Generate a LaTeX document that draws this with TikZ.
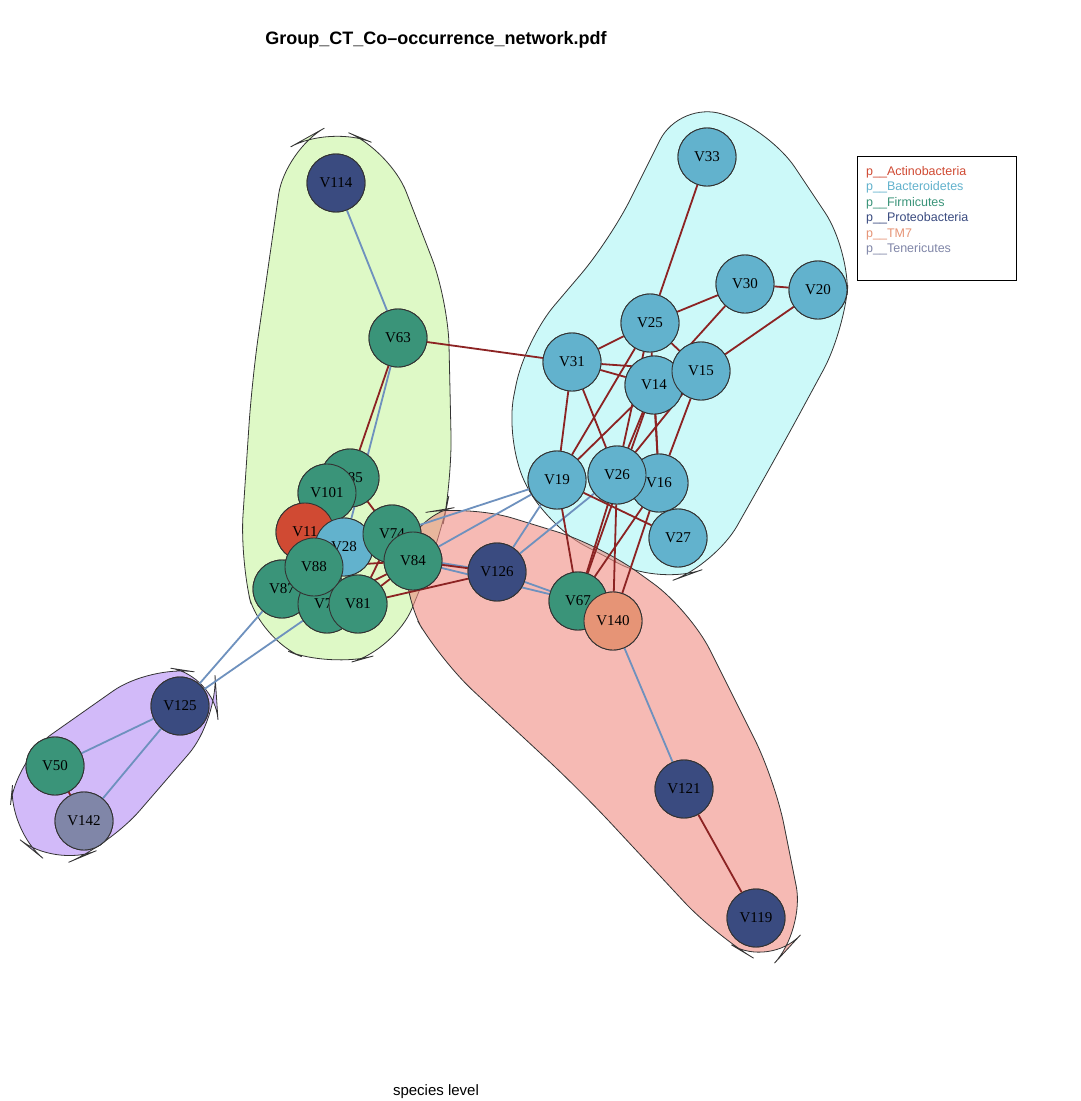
\documentclass[tikz,border=0pt]{standalone}
\usepackage{fontspec}
\setsansfont{Liberation Sans}
\setmainfont{Liberation Serif}
\begin{document}
\begin{tikzpicture}[x=1pt,y=-1pt,
 vtx/.style={circle,draw=black!80,line width=0.9pt,minimum size=58pt,inner sep=0pt,font=\fontsize{15}{15}\selectfont},
 act/.style={vtx,fill={rgb,255:red,208;green,74;blue,51}},
 bac/.style={vtx,fill={rgb,255:red,98;green,178;blue,205}},
 fir/.style={vtx,fill={rgb,255:red,58;green,148;blue,121}},
 pro/.style={vtx,fill={rgb,255:red,58;green,75;blue,128}},
 tm/.style={vtx,fill={rgb,255:red,230;green,148;blue,118}},
 ten/.style={vtx,fill={rgb,255:red,128;green,134;blue,168}},
 re/.style={draw={rgb,255:red,140;green,35;blue,35},line width=1.8pt},
 be/.style={draw={rgb,255:red,110;green,145;blue,190},line width=1.8pt},
 blob/.style={draw=black!80,line width=0.8pt,rounded corners=45pt,fill opacity=0.6}]
\useasboundingbox (0,0) rectangle (1080,1101);
\fill[white] (0,0) rectangle (1080,1101);
% blobs
\path[blob,fill={rgb,255:red,200;green,245;blue,160}] (285,150)--(330,125)--(390,150)--(448,300)--(452,480)--(440,540)--(395,650)--(330,668)--(260,640)--(240,560)--(252,380)--cycle;
\path[blob,fill={rgb,255:red,170;green,245;blue,245}] (680,100)--(770,130)--(850,250)--(845,330)--(780,450)--(715,565)--(660,585)--(545,525)--(505,440)--(525,340)--(610,240)--cycle;
\path[blob,fill={rgb,255:red,240;green,140;blue,130}] (410,515)--(470,505)--(600,545)--(690,610)--(775,780)--(805,930)--(770,968)--(715,935)--(580,790)--(440,660)--(400,590)--cycle;
\path[blob,fill={rgb,255:red,180;green,140;blue,245}] (150,665)--(215,675)--(218,720)--(110,845)--(55,868)--(8,830)--(15,760)--cycle;
% nodes
\node[pro] (V114) at (336,183) {V114};
\node[fir] (V63) at (398,338) {V63};
\node[fir] (V85) at (350,478) {V85};
\node[fir] (V101) at (327,493) {V101};
\node[act] (V11) at (305,532) {V11};
\node[bac] (V28) at (344,547) {V28};
\node[fir] (V74) at (392,534) {V74};
\node[fir] (V84) at (413,561) {V84};
\node[fir] (V87) at (282,589) {V87};
\node[fir] (V77) at (327,604) {V77};
\node[fir] (V81) at (358,604) {V81};
\node[fir] (V88) at (314,567) {V88};
\node[pro] (V126) at (497,572) {V126};
\node[fir] (V67) at (578,601) {V67};
\node[tm] (V140) at (613,621) {V140};
\node[pro] (V121) at (684,789) {V121};
\node[pro] (V119) at (756,918) {V119};
\node[pro] (V125) at (180,706) {V125};
\node[fir] (V50) at (55,766) {V50};
\node[ten] (V142) at (84,821) {V142};
\node[bac] (V33) at (707,157) {V33};
\node[bac] (V30) at (745,284) {V30};
\node[bac] (V20) at (818,290) {V20};
\node[bac] (V25) at (650,323) {V25};
\node[bac] (V31) at (572,362) {V31};
\node[bac] (V14) at (654,385) {V14};
\node[bac] (V15) at (701,371) {V15};
\node[bac] (V27) at (678,538) {V27};
\node[bac] (V16) at (659,483) {V16};
\node[bac] (V19) at (557,480) {V19};
\node[bac] (V26) at (617,475) {V26};
% edges
\foreach \a/\b in {V114/V63,V63/V28,V125/V87,V125/V77,V125/V50,V125/V142,V19/V74,V19/V84,V19/V126,V26/V126,V126/V67,V84/V67,V140/V121,V28/V126}
  \path[be] (\a)--(\b);
\foreach \a/\b in {V50/V142,V63/V85,V63/V31,V121/V119,V84/V126,V81/V126,V74/V85,V28/V74,V88/V84,V81/V84,V81/V74,V88/V74,V77/V84,V33/V25,V25/V30,V30/V20,V20/V15,V30/V14,V25/V31,V31/V14,V31/V15,V31/V19,V31/V26,V25/V19,V25/V26,V25/V15,V14/V19,V14/V26,V14/V16,V14/V67,V15/V16,V15/V26,V19/V27,V19/V67,V26/V67,V26/V140,V16/V67,V16/V140,V25/V16}
  \path[re] (\a)--(\b);
% redraw nodes above edges
\foreach \n/\s/\x/\y in {V114/pro/336/183,V63/fir/398/338,V85/fir/350/478,V101/fir/327/493,V11/act/305/532,V28/bac/344/547,V74/fir/392/534,V84/fir/413/561,V87/fir/282/589,V77/fir/327/604,V81/fir/358/604,V88/fir/314/567,V126/pro/497/572,V67/fir/578/601,V140/tm/613/621,V121/pro/684/789,V119/pro/756/918,V125/pro/180/706,V50/fir/55/766,V142/ten/84/821,V33/bac/707/157,V30/bac/745/284,V20/bac/818/290,V25/bac/650/323,V31/bac/572/362,V14/bac/654/385,V15/bac/701/371,V27/bac/678/538,V16/bac/659/483,V19/bac/557/480,V26/bac/617/475}
  \node[\s] at (\x,\y) {\n};
% legend
\node[draw=black,line width=0.6pt,minimum width=159pt,minimum height=124pt] (leg) at (936.5,218) {};
\node[anchor=north west,font=\sffamily\fontsize{12.5}{15.5}\selectfont,align=left,inner sep=0pt] (legt) at (866,166) {%
\textcolor[RGB]{208,74,51}{p\_\_Actinobacteria}\\
\textcolor[RGB]{98,178,205}{p\_\_Bacteroidetes}\\
\textcolor[RGB]{58,148,121}{p\_\_Firmicutes}\\
\textcolor[RGB]{58,75,128}{p\_\_Proteobacteria}\\
\textcolor[RGB]{230,148,118}{p\_\_TM7}\\
\textcolor[RGB]{128,134,168}{p\_\_Tenericutes}};
\node[font=\sffamily\bfseries\fontsize{18}{18}\selectfont] (title) at (436,40) {Group\_CT\_Co--occurrence\_network.pdf};
\node[font=\sffamily\fontsize{15}{15}\selectfont] (sub) at (436,1092) {species level};
\end{tikzpicture}
\end{document}
